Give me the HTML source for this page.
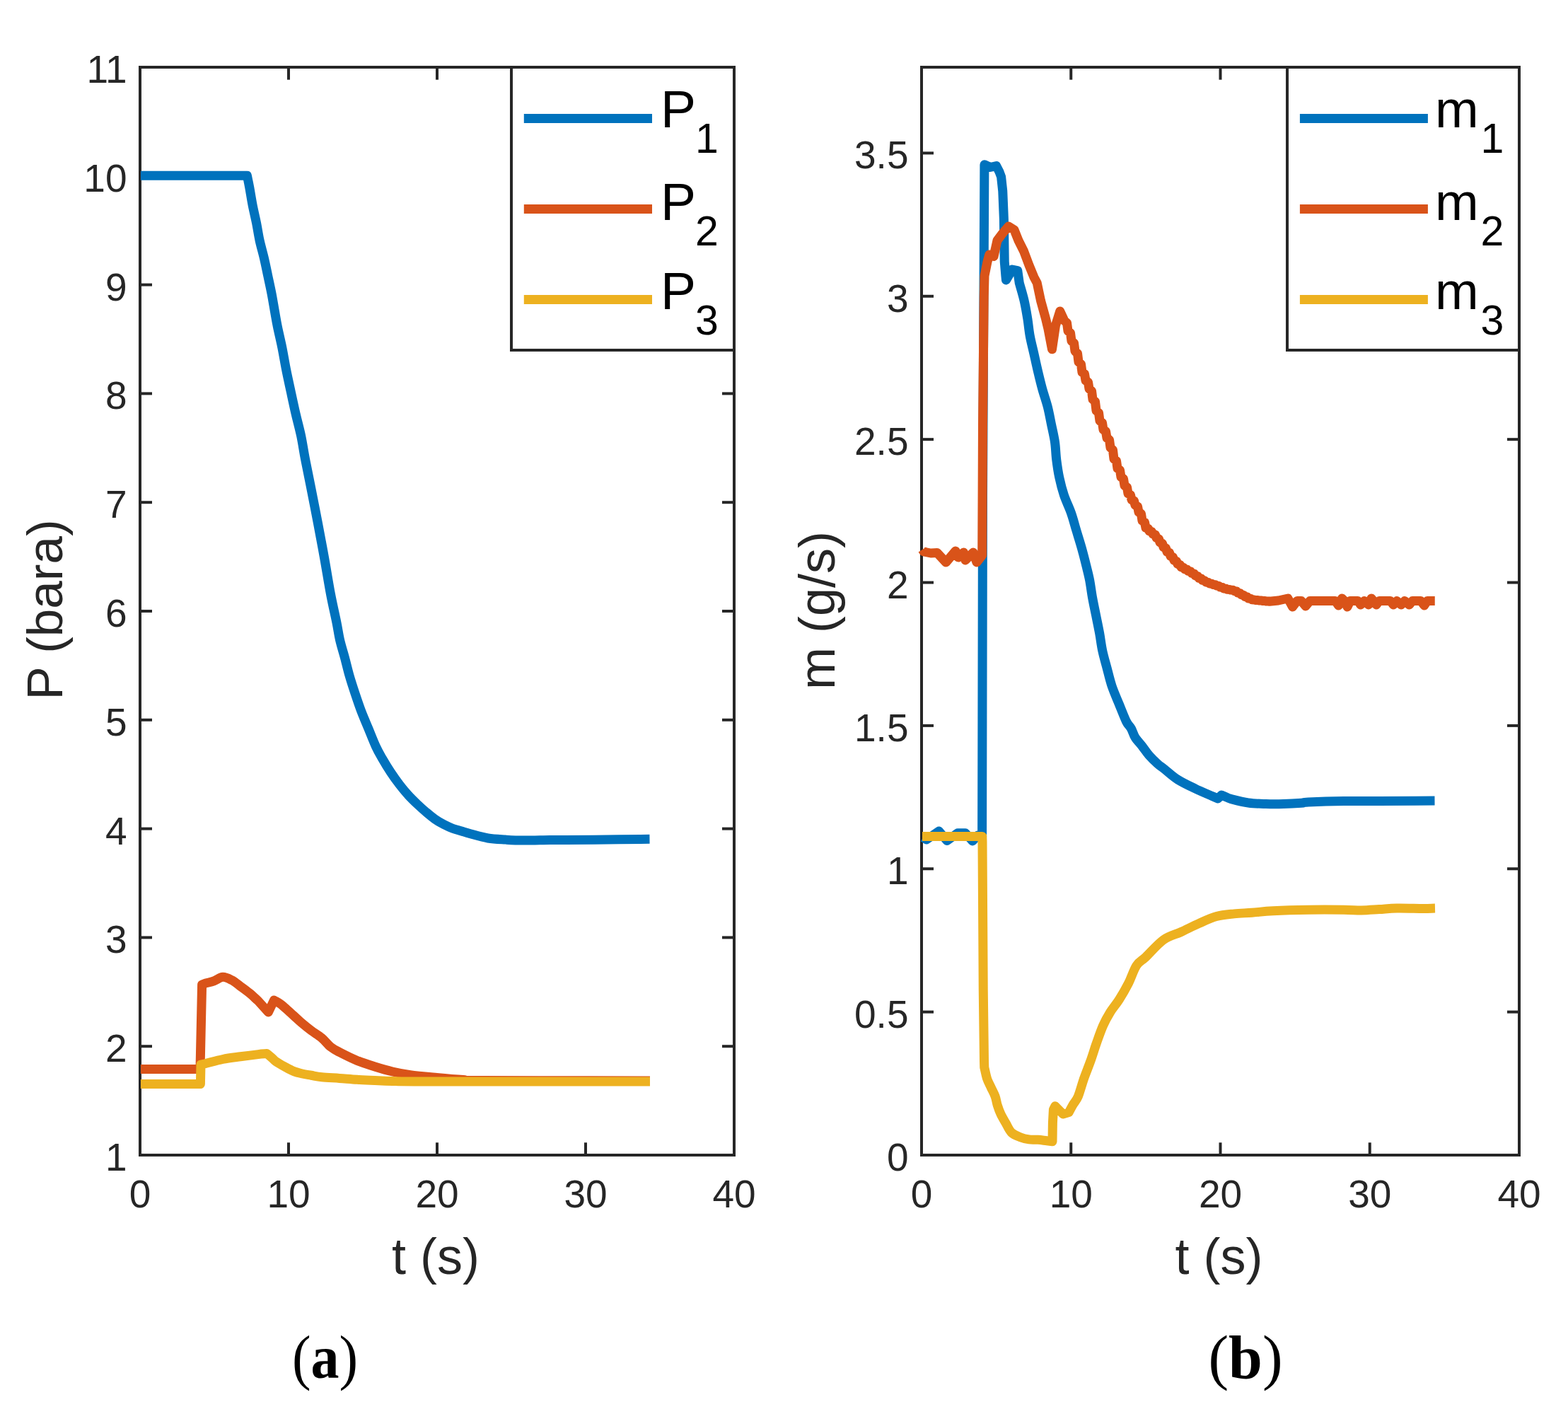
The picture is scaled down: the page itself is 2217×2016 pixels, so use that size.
<!DOCTYPE html>
<html><head><meta charset="utf-8"><title>Figure</title><style>html,body{margin:0;padding:0;background:#fff;}svg{display:block;}</style></head><body>
<svg xmlns="http://www.w3.org/2000/svg" width="2217" height="2016" viewBox="0 0 2217 2016">
<rect width="2217" height="2016" fill="#fff"/>
<g stroke="#262626" stroke-width="4" fill="none" stroke-linecap="butt">
<line x1="408.00" y1="1633" x2="408.00" y2="1615.3"/>
<line x1="408.00" y1="95" x2="408.00" y2="112.7"/>
<line x1="618.00" y1="1633" x2="618.00" y2="1615.3"/>
<line x1="618.00" y1="95" x2="618.00" y2="112.7"/>
<line x1="828.00" y1="1633" x2="828.00" y2="1615.3"/>
<line x1="198" y1="1479.20" x2="215.0" y2="1479.20"/>
<line x1="1038" y1="1479.20" x2="1021.0" y2="1479.20"/>
<line x1="198" y1="1325.40" x2="215.0" y2="1325.40"/>
<line x1="1038" y1="1325.40" x2="1021.0" y2="1325.40"/>
<line x1="198" y1="1171.60" x2="215.0" y2="1171.60"/>
<line x1="1038" y1="1171.60" x2="1021.0" y2="1171.60"/>
<line x1="198" y1="1017.80" x2="215.0" y2="1017.80"/>
<line x1="1038" y1="1017.80" x2="1021.0" y2="1017.80"/>
<line x1="198" y1="864.00" x2="215.0" y2="864.00"/>
<line x1="1038" y1="864.00" x2="1021.0" y2="864.00"/>
<line x1="198" y1="710.20" x2="215.0" y2="710.20"/>
<line x1="1038" y1="710.20" x2="1021.0" y2="710.20"/>
<line x1="198" y1="556.40" x2="215.0" y2="556.40"/>
<line x1="1038" y1="556.40" x2="1021.0" y2="556.40"/>
<line x1="198" y1="402.60" x2="215.0" y2="402.60"/>
<line x1="198" y1="248.80" x2="215.0" y2="248.80"/>
<line x1="1514.25" y1="1633" x2="1514.25" y2="1615.3"/>
<line x1="1514.25" y1="95" x2="1514.25" y2="112.7"/>
<line x1="1725.50" y1="1633" x2="1725.50" y2="1615.3"/>
<line x1="1725.50" y1="95" x2="1725.50" y2="112.7"/>
<line x1="1936.75" y1="1633" x2="1936.75" y2="1615.3"/>
<line x1="1303" y1="1430.63" x2="1320.0" y2="1430.63"/>
<line x1="2148" y1="1430.63" x2="2131.0" y2="1430.63"/>
<line x1="1303" y1="1228.26" x2="1320.0" y2="1228.26"/>
<line x1="2148" y1="1228.26" x2="2131.0" y2="1228.26"/>
<line x1="1303" y1="1025.89" x2="1320.0" y2="1025.89"/>
<line x1="2148" y1="1025.89" x2="2131.0" y2="1025.89"/>
<line x1="1303" y1="823.53" x2="1320.0" y2="823.53"/>
<line x1="2148" y1="823.53" x2="2131.0" y2="823.53"/>
<line x1="1303" y1="621.16" x2="1320.0" y2="621.16"/>
<line x1="2148" y1="621.16" x2="2131.0" y2="621.16"/>
<line x1="1303" y1="418.79" x2="1320.0" y2="418.79"/>
<line x1="1303" y1="216.42" x2="1320.0" y2="216.42"/>
</g>
<rect x="198" y="95" width="840" height="1538" fill="none" stroke="#262626" stroke-width="4" stroke-linejoin="miter"/>
<rect x="1303" y="95" width="845" height="1538" fill="none" stroke="#262626" stroke-width="4" stroke-linejoin="miter"/>
<g fill="none" stroke-width="13" stroke-linejoin="round" stroke-linecap="butt">
<path d="M199.00 248.30 L349.40 248.30 C350.52 253.87 351.47 258.05 352.75 265.00 C354.03 271.95 355.48 281.67 357.10 290.00 C358.73 298.33 360.83 306.67 362.50 315.00 C364.17 323.33 365.28 331.67 367.10 340.00 C368.92 348.33 371.46 356.67 373.40 365.00 C375.34 373.33 376.98 381.67 378.75 390.00 C380.52 398.33 382.39 406.67 384.00 415.00 C385.61 423.33 387.00 432.17 388.40 440.00 C389.80 447.83 390.67 453.50 392.40 462.00 C394.12 470.50 396.72 480.92 398.75 491.00 C400.78 501.08 402.52 512.04 404.60 522.50 C406.68 532.96 409.00 543.33 411.25 553.75 C413.50 564.17 415.71 574.62 418.10 585.00 C420.49 595.38 423.41 605.58 425.60 616.00 C427.79 626.42 429.06 636.00 431.25 647.50 C433.44 659.00 435.71 669.58 438.75 685.00 C441.79 700.42 446.16 722.50 449.50 740.00 C452.84 757.50 455.80 773.33 458.80 790.00 C461.80 806.67 464.65 825.00 467.50 840.00 C470.35 855.00 473.72 869.17 475.90 880.00 C478.08 890.83 478.67 896.67 480.60 905.00 C482.53 913.33 485.27 921.67 487.50 930.00 C489.73 938.33 491.60 946.67 494.00 955.00 C496.40 963.33 499.13 971.67 501.90 980.00 C504.67 988.33 507.43 996.67 510.60 1005.00 C513.77 1013.33 517.46 1021.67 520.90 1030.00 C524.34 1038.33 528.07 1048.08 531.25 1055.00 C534.43 1061.92 536.46 1065.35 540.00 1071.50 C543.54 1077.65 548.33 1085.58 552.50 1091.90 C556.67 1098.22 560.83 1103.98 565.00 1109.40 C569.17 1114.82 573.33 1119.82 577.50 1124.40 C581.67 1128.98 585.83 1132.95 590.00 1136.90 C594.17 1140.85 598.33 1144.57 602.50 1148.10 C606.67 1151.63 610.83 1155.18 615.00 1158.10 C619.17 1161.02 623.33 1163.41 627.50 1165.60 C631.67 1167.79 635.83 1169.68 640.00 1171.25 C644.17 1172.82 648.33 1173.75 652.50 1175.00 C656.67 1176.25 658.75 1177.08 665.00 1178.75 C671.25 1180.42 681.67 1183.61 690.00 1185.00 C698.33 1186.39 706.67 1186.58 715.00 1187.10 C723.33 1187.62 729.58 1188.03 740.00 1188.10 C750.42 1188.17 767.50 1187.60 777.50 1187.50 C787.50 1187.40 783.75 1187.62 800.00 1187.50 C816.25 1187.38 855.25 1187.00 875.00 1186.80 C894.75 1186.60 904.00 1186.47 918.50 1186.30" stroke="#0072BD"/>
<path d="M199.00 1511.50 L283.00 1511.50 L285.60 1392.00 L290.00 1390.30 C294.17 1389.17 298.33 1388.40 302.50 1386.90 C306.67 1385.40 310.83 1381.52 315.00 1381.30 C319.17 1381.08 323.33 1383.42 327.50 1385.60 C331.67 1387.78 335.83 1391.37 340.00 1394.40 C344.17 1397.43 348.33 1400.37 352.50 1403.80 C356.67 1407.23 360.83 1411.27 365.00 1415.00 L379.40 1431.00 L387.50 1414.00 C390.33 1415.67 393.50 1417.27 396.00 1419.00 C398.50 1420.73 399.33 1421.63 402.50 1424.40 C405.67 1427.17 410.83 1431.85 415.00 1435.60 C419.17 1439.35 423.33 1443.35 427.50 1446.90 C431.67 1450.45 435.42 1453.47 440.00 1456.90 C444.58 1460.33 450.42 1463.65 455.00 1467.50 C459.58 1471.35 463.33 1476.67 467.50 1480.00 C471.67 1483.33 473.75 1484.27 480.00 1487.50 C486.25 1490.73 496.67 1495.98 505.00 1499.40 C513.33 1502.82 521.67 1505.40 530.00 1508.00 C538.33 1510.60 546.67 1513.07 555.00 1515.00 C563.33 1516.93 569.58 1518.20 580.00 1519.60 C590.42 1521.00 605.00 1522.25 617.50 1523.40 C630.00 1524.55 644.58 1525.82 655.00 1526.50 C665.42 1527.18 636.00 1527.25 680.00 1527.50 C724.00 1527.75 839.33 1527.83 919.00 1528.00" stroke="#D95319"/>
<path d="M199.00 1532.50 L283.40 1532.50 L284.00 1505.00 L290.00 1503.75 C298.33 1501.67 306.67 1499.17 315.00 1497.50 C323.33 1495.83 331.67 1494.90 340.00 1493.75 C348.33 1492.60 358.75 1491.29 365.00 1490.60 C371.25 1489.91 373.33 1489.93 377.50 1489.60 L385.00 1496.00 C386.67 1497.53 387.08 1498.60 390.00 1500.60 C392.92 1502.60 398.33 1505.70 402.50 1508.00 C406.67 1510.30 410.83 1512.73 415.00 1514.40 C419.17 1516.07 423.33 1517.03 427.50 1518.00 C431.67 1518.97 435.42 1519.46 440.00 1520.25 C444.58 1521.04 448.33 1522.06 455.00 1522.75 C461.67 1523.44 471.67 1523.82 480.00 1524.40 C488.33 1524.98 496.67 1525.73 505.00 1526.25 C513.33 1526.77 521.67 1527.14 530.00 1527.50 C538.33 1527.86 542.50 1528.15 555.00 1528.40 C567.50 1528.65 544.33 1528.90 605.00 1529.00 C665.67 1529.10 814.33 1529.00 919.00 1529.00" stroke="#EDB120"/>
<path d="M1305.00 1184.00 L1310.00 1187.00 L1327.50 1175.00 L1339.00 1188.50 L1354.00 1177.75 L1365.00 1177.75 L1375.00 1189.00 L1382.50 1181.00 L1388.60 1183.00 L1389.50 700.00 L1391.90 232.75 L1400.00 236.50 L1408.75 234.60 L1413.00 243.00 L1415.60 250.00 L1417.75 270.00 L1419.40 310.00 L1420.25 370.00 L1421.90 390.00 L1422.50 396.00 L1431.25 381.00 L1438.75 382.50 L1441.25 400.00 C1443.53 408.33 1446.18 416.67 1448.10 425.00 C1450.02 433.33 1451.39 441.67 1452.75 450.00 C1454.11 458.33 1454.72 466.67 1456.25 475.00 C1457.78 483.33 1460.03 491.67 1461.90 500.00 C1463.78 508.33 1465.53 516.67 1467.50 525.00 C1469.47 533.33 1471.46 541.67 1473.75 550.00 C1476.04 558.33 1479.12 566.67 1481.25 575.00 C1483.38 583.33 1484.79 591.67 1486.50 600.00 C1488.21 608.33 1490.29 616.67 1491.50 625.00 C1492.71 633.33 1492.71 641.67 1493.75 650.00 C1494.79 658.33 1495.97 666.67 1497.75 675.00 C1499.53 683.33 1501.62 691.67 1504.40 700.00 C1507.18 708.33 1511.48 716.67 1514.40 725.00 C1517.32 733.33 1519.40 741.67 1521.90 750.00 C1524.40 758.33 1527.07 766.67 1529.40 775.00 C1531.73 783.33 1534.03 792.50 1535.90 800.00 C1537.77 807.50 1539.15 812.50 1540.60 820.00 C1542.05 827.50 1543.10 836.67 1544.60 845.00 C1546.10 853.33 1547.93 861.67 1549.60 870.00 C1551.27 878.33 1553.07 886.67 1554.60 895.00 C1556.12 903.33 1556.97 911.67 1558.75 920.00 C1560.53 928.33 1563.03 936.67 1565.25 945.00 C1567.47 953.33 1569.29 961.67 1572.10 970.00 C1574.91 978.33 1578.70 986.67 1582.10 995.00 C1585.50 1003.33 1589.62 1014.17 1592.50 1020.00 C1595.38 1025.83 1597.32 1026.25 1599.40 1030.00 C1601.48 1033.75 1602.40 1038.33 1605.00 1042.50 C1607.60 1046.67 1611.77 1050.83 1615.00 1055.00 C1618.23 1059.17 1620.75 1063.33 1624.40 1067.50 C1628.05 1071.67 1633.30 1076.75 1636.90 1080.00 C1640.50 1083.25 1641.32 1083.33 1646.00 1087.00 C1650.68 1090.67 1657.67 1097.33 1665.00 1102.00 C1672.33 1106.67 1681.67 1111.00 1690.00 1115.00 C1698.33 1119.00 1706.67 1122.33 1715.00 1126.00 L1722.00 1129.00 L1727.00 1124.00 L1734.00 1127.00 C1736.00 1127.80 1734.83 1128.07 1740.00 1129.40 C1745.17 1130.73 1756.67 1133.82 1765.00 1135.00 C1773.33 1136.18 1781.67 1136.25 1790.00 1136.50 C1798.33 1136.75 1806.67 1136.71 1815.00 1136.50 C1823.33 1136.29 1834.17 1135.67 1840.00 1135.25 C1845.83 1134.83 1840.00 1134.46 1850.00 1134.00 C1860.00 1133.54 1883.33 1132.75 1900.00 1132.50 C1916.67 1132.25 1928.58 1132.58 1950.00 1132.50 C1971.42 1132.42 2002.33 1132.17 2028.50 1132.00" stroke="#0072BD"/>
<path d="M1304.00 777.00 L1306.00 780.00 L1316.00 782.00 L1325.00 781.50 L1337.50 795.00 L1351.00 779.00 L1355.00 788.00 L1362.50 781.00 L1365.00 792.00 L1376.00 781.00 L1381.00 795.00 L1388.75 785.00 L1389.50 600.00 L1391.25 419.00 L1392.00 390.00 L1396.00 370.00 L1398.75 360.00 L1405.00 362.50 L1410.00 340.00 L1417.50 330.00 L1426.00 320.00 L1434.00 325.00 L1440.00 340.00 L1447.50 355.00 L1455.00 375.00 L1462.00 392.00 L1466.25 400.00 L1471.50 425.00 L1478.40 450.00 L1482.00 465.00 L1487.50 493.75 L1492.50 460.00 L1498.75 440.00 L1505.00 453.57 L1508.50 456.43 L1510.00 467.85 L1513.50 470.71 L1515.00 482.10 L1518.50 484.93 L1520.00 496.51 L1523.50 499.54 L1525.00 511.74 L1528.50 514.84 L1530.00 526.32 L1533.50 528.69 L1535.00 537.97 L1538.50 540.18 L1540.00 549.83 L1543.50 552.68 L1545.00 564.60 L1548.50 567.86 L1550.00 580.57 L1553.50 583.57 L1555.00 595.06 L1558.50 597.67 L1560.00 607.63 L1563.50 609.85 L1565.00 619.13 L1568.50 621.66 L1570.00 632.81 L1573.50 636.18 L1575.00 648.89 L1578.50 651.65 L1580.00 662.26 L1583.50 664.70 L1585.00 674.43 L1588.50 676.88 L1590.00 686.57 L1593.50 688.95 L1595.00 697.86 L1598.50 699.75 L1600.00 706.72 L1603.50 708.13 L1605.00 714.21 L1608.50 715.98 L1610.00 723.93 L1613.50 726.40 L1615.00 736.14 L1618.50 738.50 L1620.00 746.26 L1623.50 747.27 L1625.00 750.95 L1628.50 751.69 L1630.00 755.00 L1633.50 756.04 L1635.00 760.51 L1638.50 761.80 L1640.00 767.02 L1643.50 768.35 L1645.00 773.64 L1648.50 774.94 L1650.00 780.15 L1653.50 781.44 L1655.00 786.46 L1658.50 787.64 L1660.00 792.26 L1663.50 793.35 L1665.00 797.53 L1668.50 798.45 L1670.00 801.79 L1673.50 802.42 L1675.00 804.77 L1678.50 805.26 L1680.00 807.36 L1683.50 807.97 L1685.00 810.50 L1688.50 811.20 L1690.00 813.96 L1693.50 814.64 L1695.00 817.29 L1698.50 817.92 L1700.00 820.38 L1703.50 820.95 L1705.00 823.08 L1708.50 823.51 L1710.00 825.04 L1713.50 825.32 L1715.00 826.43 L1718.50 826.72 L1720.00 828.01 L1723.50 828.41 L1725.00 830.06 L1728.50 830.48 L1730.00 832.00 L1733.50 832.29 L1735.00 833.27 L1738.50 833.42 L1740.00 834.13 L1743.50 834.36 L1745.00 835.58 L1748.50 836.05 L1750.00 838.05 L1753.50 838.61 L1755.00 840.82 L1758.50 841.35 L1760.00 843.47 L1763.50 843.99 L1765.00 845.96 L1768.50 846.37 L1770.00 847.73 L1773.50 847.92 L1775.00 848.52 L1778.50 848.59 L1780.00 848.91 L1783.50 849.00 L1785.00 849.39 L1788.50 849.49 L1790.00 849.88 L1793.50 849.98 L1795.00 850.25 L1807.50 849.00 L1821.00 846.00 L1827.50 858.00 L1834.00 849.60 L1840.00 849.60 L1846.00 857.00 L1852.00 849.60 L1870.00 849.60 L1888.00 849.60 L1892.50 856.00 L1897.50 846.00 L1901.00 849.60 L1905.00 858.00 L1909.00 849.60 L1920.00 849.60 L1923.75 855.00 L1929.00 849.60 L1935.00 855.00 L1939.00 846.00 L1942.00 849.60 L1946.00 855.00 L1950.00 849.60 L1966.00 849.60 L1970.00 855.00 L1975.00 849.60 L1981.00 855.00 L1986.00 849.60 L1992.50 855.00 L1997.00 849.60 L2009.00 849.60 L2013.75 856.00 L2018.00 849.60 L2028.75 849.60" stroke="#D95319"/>
<path d="M1304.00 1182.50 L1388.75 1182.50 L1389.00 1190.00 L1390.25 1400.00 L1391.50 1500.00 L1391.75 1509.00 C1393.03 1514.33 1394.02 1520.25 1395.60 1525.00 C1397.18 1529.75 1399.33 1533.33 1401.25 1537.50 C1403.17 1541.67 1405.60 1545.83 1407.10 1550.00 C1408.60 1554.17 1408.93 1558.33 1410.25 1562.50 C1411.57 1566.67 1413.06 1570.83 1415.00 1575.00 C1416.94 1579.17 1419.40 1583.17 1421.90 1587.50 C1424.40 1591.83 1426.57 1597.62 1430.00 1601.00 C1433.43 1604.38 1438.33 1606.10 1442.50 1607.75 C1446.67 1609.40 1450.83 1610.32 1455.00 1610.90 C1459.17 1611.48 1463.33 1610.94 1467.50 1611.25 C1471.67 1611.56 1475.83 1612.25 1480.00 1612.75 L1488.00 1613.75 L1488.40 1587.50 L1489.40 1568.75 L1491.90 1563.75 L1503.00 1575.00 L1511.25 1572.50 C1513.17 1569.00 1514.81 1565.75 1517.00 1562.00 C1519.19 1558.25 1521.82 1556.17 1524.40 1550.00 C1526.98 1543.83 1529.58 1533.33 1532.50 1525.00 C1535.42 1516.67 1538.94 1508.33 1541.90 1500.00 C1544.86 1491.67 1547.30 1483.33 1550.25 1475.00 C1553.20 1466.67 1556.38 1457.29 1559.60 1450.00 C1562.82 1442.71 1565.78 1437.42 1569.60 1431.25 C1573.42 1425.08 1578.17 1419.88 1582.50 1413.00 C1586.83 1406.12 1591.53 1398.00 1595.60 1390.00 C1599.67 1382.00 1602.83 1371.17 1606.90 1365.00 C1610.97 1358.83 1613.65 1359.04 1620.00 1353.00 C1626.35 1346.96 1636.67 1334.67 1645.00 1328.75 C1653.33 1322.83 1661.67 1321.36 1670.00 1317.50 C1678.33 1313.64 1686.67 1309.25 1695.00 1305.60 C1703.33 1301.95 1711.67 1297.88 1720.00 1295.60 C1728.33 1293.32 1736.67 1292.79 1745.00 1291.90 C1753.33 1291.01 1760.83 1290.94 1770.00 1290.25 C1779.17 1289.56 1786.67 1288.42 1800.00 1287.75 C1813.33 1287.08 1833.33 1286.50 1850.00 1286.25 C1866.67 1286.00 1887.50 1286.12 1900.00 1286.25 C1912.50 1286.38 1916.67 1287.11 1925.00 1287.00 C1933.33 1286.89 1941.67 1286.10 1950.00 1285.60 C1958.33 1285.10 1964.58 1284.20 1975.00 1284.00 C1985.42 1283.80 2003.50 1284.40 2012.50 1284.40 C2021.50 1284.40 2023.50 1284.13 2029.00 1284.00" stroke="#EDB120"/>
</g>
<rect x="723" y="95" width="315" height="400" fill="#fff" stroke="#262626" stroke-width="4"/>
<rect x="1820" y="95" width="328" height="400" fill="#fff" stroke="#262626" stroke-width="4"/>
<g stroke-width="13" fill="none">
<line x1="740.8" y1="167.6" x2="922" y2="167.6" stroke="#0072BD"/>
<line x1="1837.9" y1="167.6" x2="2018.9" y2="167.6" stroke="#0072BD"/>
<line x1="740.8" y1="295.6" x2="922" y2="295.6" stroke="#D95319"/>
<line x1="1837.9" y1="295.6" x2="2018.9" y2="295.6" stroke="#D95319"/>
<line x1="740.8" y1="423.6" x2="922" y2="423.6" stroke="#EDB120"/>
<line x1="1837.9" y1="423.6" x2="2018.9" y2="423.6" stroke="#EDB120"/>
</g>
<g font-family="'Liberation Sans', Arial, Helvetica, sans-serif" fill="#000">
<text x="934" y="179.9" font-size="75">P</text>
<text x="983" y="215.7" font-size="59">1</text>
<text x="2029" y="179.9" font-size="74">m</text>
<text x="2093.5" y="215.7" font-size="59">1</text>
<text x="934" y="310.7" font-size="75">P</text>
<text x="983" y="347.0" font-size="59">2</text>
<text x="2029" y="310.7" font-size="74">m</text>
<text x="2093.5" y="347.0" font-size="59">2</text>
<text x="934" y="436.9" font-size="75">P</text>
<text x="983" y="472.7" font-size="59">3</text>
<text x="2029" y="436.9" font-size="74">m</text>
<text x="2093.5" y="472.7" font-size="59">3</text>
</g>
<g font-family="'Liberation Sans', Arial, Helvetica, sans-serif" font-size="55" fill="#262626">
<text x="198.00" y="1707" text-anchor="middle">0</text>
<text x="408.00" y="1707" text-anchor="middle">10</text>
<text x="618.00" y="1707" text-anchor="middle">20</text>
<text x="828.00" y="1707" text-anchor="middle">30</text>
<text x="1038.00" y="1707" text-anchor="middle">40</text>
<text x="179.50" y="1655.00" text-anchor="end">1</text>
<text x="179.50" y="1501.20" text-anchor="end">2</text>
<text x="179.50" y="1347.40" text-anchor="end">3</text>
<text x="179.50" y="1193.60" text-anchor="end">4</text>
<text x="179.50" y="1039.80" text-anchor="end">5</text>
<text x="179.50" y="886.00" text-anchor="end">6</text>
<text x="179.50" y="732.20" text-anchor="end">7</text>
<text x="179.50" y="578.40" text-anchor="end">8</text>
<text x="179.50" y="424.60" text-anchor="end">9</text>
<text x="179.50" y="270.80" text-anchor="end">10</text>
<text x="179.50" y="117.00" text-anchor="end">11</text>
<text x="1303.00" y="1707" text-anchor="middle">0</text>
<text x="1514.25" y="1707" text-anchor="middle">10</text>
<text x="1725.50" y="1707" text-anchor="middle">20</text>
<text x="1936.75" y="1707" text-anchor="middle">30</text>
<text x="2148.00" y="1707" text-anchor="middle">40</text>
<text x="1284.50" y="1655.00" text-anchor="end">0</text>
<text x="1284.50" y="1452.63" text-anchor="end">0.5</text>
<text x="1284.50" y="1250.26" text-anchor="end">1</text>
<text x="1284.50" y="1047.89" text-anchor="end">1.5</text>
<text x="1284.50" y="845.53" text-anchor="end">2</text>
<text x="1284.50" y="643.16" text-anchor="end">2.5</text>
<text x="1284.50" y="440.79" text-anchor="end">3</text>
<text x="1284.50" y="238.42" text-anchor="end">3.5</text>
</g>
<g font-family="'Liberation Sans', Arial, Helvetica, sans-serif" font-size="72" fill="#262626" text-anchor="middle">
<text x="616.0" y="1800.5">t (s)</text>
<text x="1723.5" y="1800.5">t (s)</text>
<text transform="translate(88 862) rotate(-90)" font-size="71">P (bara)</text>
<text transform="translate(1179.6 863) rotate(-90)">m (g/s)</text>
</g>
<g font-family="'Liberation Serif', 'Times New Roman', serif" font-size="86" fill="#000" text-anchor="middle">
<text transform="translate(459.5 1948) scale(0.93 1)">(<tspan font-weight="bold">a</tspan>)</text>
<text x="1761" y="1948">(<tspan font-weight="bold">b</tspan>)</text>
</g>
</svg>
</body></html>
